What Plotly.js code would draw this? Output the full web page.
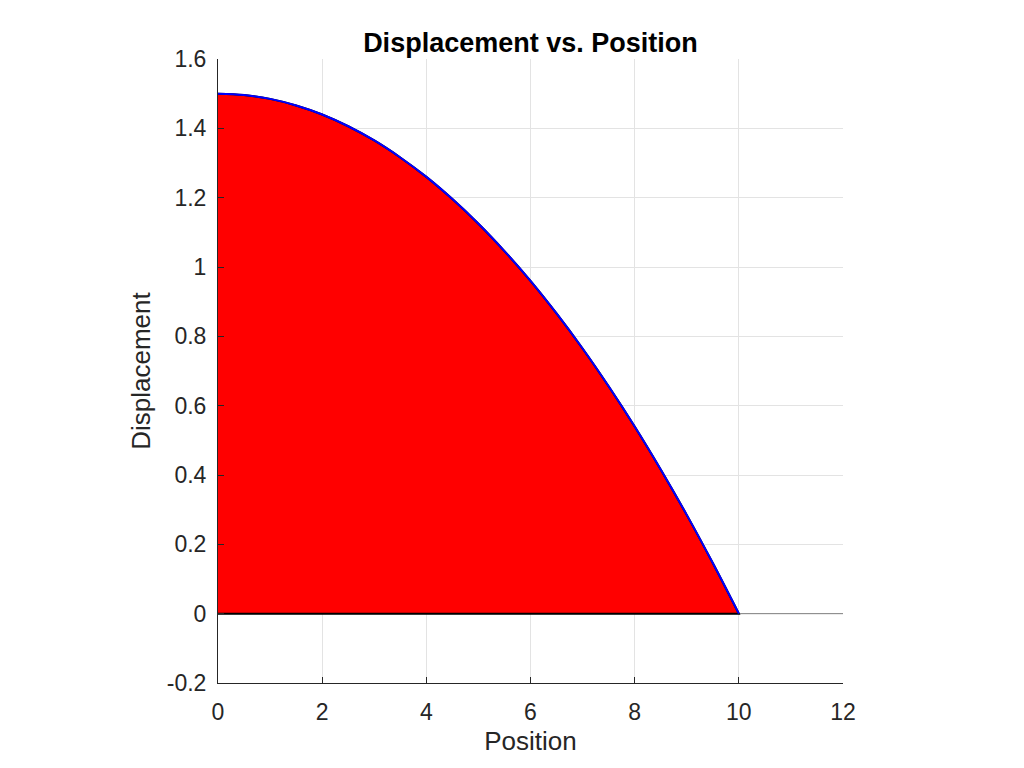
<!DOCTYPE html>
<html>
<head>
<meta charset="utf-8">
<script src="https://cdn.plot.ly/plotly-3.0.1.min.js"></script>
<style>html,body{margin:0;padding:0;background:#fff;}#chart{width:1024px;height:768px;}</style>
</head>
<body>
<div id="chart"></div>
<script>
var position = [0,0.5,1,1.5,2,2.5,3,3.5,4,4.5,5,5.5,6,6.5,7,7.5,8,8.5,9,9.5,10];
var displacement = [1.5,1.496,1.485,1.466,1.44,1.406,1.365,1.316,1.26,1.196,1.125,1.046,0.96,0.866,0.765,0.656,0.54,0.416,0.285,0.146,0];
var baselineX = [0,12];
var baselineY = [0,0];
var xTicks = [0,2,4,6,8,10,12];
var yTicks = [-0.2,0,0.2,0.4,0.6,0.8,1,1.2,1.4,1.6];

var fillX = position.concat([position[position.length-1], position[0]]);
var fillY = displacement.concat([0, 0]);

var traces = [
  {x: baselineX, y: baselineY, mode: 'lines', line: {color: '#808080', width: 1}, hoverinfo: 'skip', showlegend: false},
  {x: fillX, y: fillY, mode: 'lines', fill: 'toself', fillcolor: '#ff0000', line: {color: '#000000', width: 2, shape: 'spline'}, showlegend: false},
  {x: position, y: displacement, mode: 'lines', line: {color: '#0000ff', width: 2, shape: 'spline'}, showlegend: false}
];

var font = "'Liberation Sans', Arial, Helvetica, sans-serif";
var layout = {
  width: 1024, height: 768,
  paper_bgcolor: '#ffffff', plot_bgcolor: '#ffffff',
  margin: {l: 218, r: 181, t: 59, b: 85},
  showlegend: false,
  title: {text: '<b>Displacement vs. Position</b>', font: {family: font, size: 27, color: '#000000'}, x: 0.518, xanchor: 'center', y: 0.945, yanchor: 'middle'},
  xaxis: {
    range: [0, 12], tickvals: xTicks, ticktext: xTicks.map(String),
    ticks: 'inside', ticklen: 6, tickcolor: '#262626',
    showline: true, linecolor: '#262626', linewidth: 1, mirror: false,
    showgrid: true, gridcolor: '#e3e3e3', gridwidth: 1, zeroline: false,
    ticklabelstandoff: 8,
    tickfont: {family: font, size: 23, color: '#262626'},
    title: {text: 'Position', font: {family: font, size: 26, color: '#262626'}, standoff: 8}
  },
  yaxis: {
    range: [-0.2, 1.6], tickvals: yTicks, ticktext: yTicks.map(String),
    ticks: 'inside', ticklen: 6, tickcolor: '#262626',
    showline: true, linecolor: '#262626', linewidth: 1, mirror: false,
    showgrid: true, gridcolor: '#e3e3e3', gridwidth: 1, zeroline: false,
    ticklabelstandoff: 6,
    tickfont: {family: font, size: 23, color: '#262626'},
    title: {text: 'Displacement', font: {family: font, size: 26, color: '#262626'}, standoff: 8}
  }
};
Plotly.newPlot('chart', traces, layout, {displayModeBar: false, staticPlot: true});
</script>
</body>
</html>
